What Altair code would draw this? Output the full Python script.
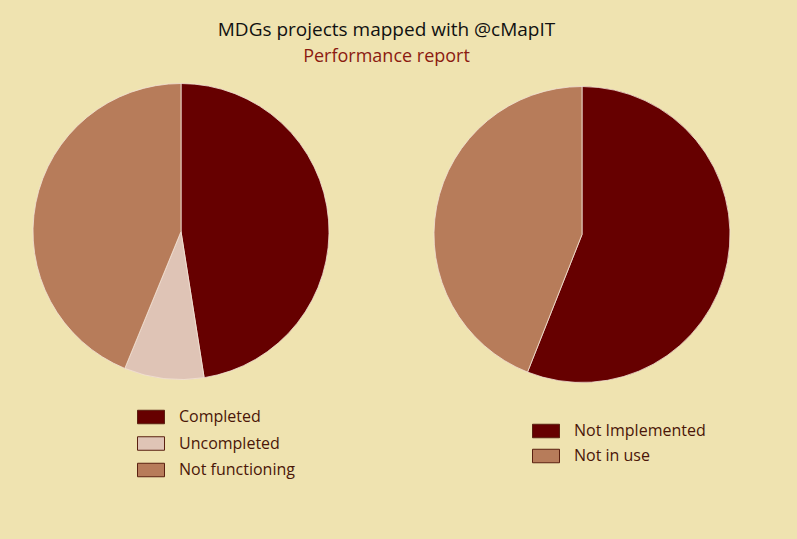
import altair as alt
import pandas as pd

# Left pie
left_cats = ["Completed", "Uncompleted", "Not functioning"]
left_vals = [47.5, 8.7, 43.8]
left_colors = ["#660000", "#dfc4b6", "#b77c5a"]

# Right pie
right_cats = ["Not Implemented", "Not in use"]
right_vals = [56.0, 44.0]
right_colors = ["#660000", "#b77c5a"]

BG = "#efe3b0"
FONT = "Open Sans"
LABEL_COLOR = "#4a1608"

left_df = pd.DataFrame({"cat": left_cats, "val": left_vals, "idx": range(len(left_cats))})
right_df = pd.DataFrame({"cat": right_cats, "val": right_vals, "idx": range(len(right_cats))})

rect_path = "M-1,-0.5H1V0.5H-1Z"

def legend(x, y, rp):
    return alt.Legend(
        title=None, orient="none", legendX=x, legendY=y,
        symbolType=rect_path, symbolSize=729,
        symbolStrokeColor="#5a2010", symbolStrokeWidth=1,
        labelFont=FONT, labelFontSize=16, labelColor=LABEL_COLOR,
        labelOffset=14, rowPadding=rp, padding=0, symbolOpacity=1,
    )

left = alt.Chart(left_df).mark_arc(
    radius=148, stroke="#f3e2d6", strokeWidth=0.8
).encode(
    theta=alt.Theta("val:Q", stack=True),
    order=alt.Order("idx:Q", sort="ascending"),
    color=alt.Color("cat:N", scale=alt.Scale(domain=left_cats, range=left_colors),
                    legend=legend(137, 333, 3.5)),
    x=alt.value(181),
    y=alt.value(161.5),
)

right = alt.Chart(right_df).mark_arc(
    radius=148, stroke="#f3e2d6", strokeWidth=0.8
).encode(
    theta=alt.Theta("val:Q", stack=True),
    order=alt.Order("idx:Q", sort="ascending"),
    color=alt.Color("cat:N", scale=alt.Scale(domain=right_cats, range=right_colors),
                    legend=legend(532, 347, 2)),
    x=alt.value(582),
    y=alt.value(164.5),
)

chart = alt.layer(left, right).resolve_scale(color="independent").properties(
    width=797, height=469,
    padding={"top": 70, "left": 0, "right": 0, "bottom": 0},
    autosize=alt.AutoSizeParams(type="none"),
    background=BG,
    title=alt.TitleParams(
        text="MDGs projects mapped with @cMapIT",
        subtitle="Performance report",
        font=FONT, fontSize=19, fontWeight="normal", color="#111111",
        subtitleFont=FONT, subtitleFontSize=18, subtitleColor="#8b1a10",
        subtitlePadding=8, anchor="middle", dx=-12, offset=4,
    ),
).configure_view(stroke=None)

chart.save("out.html", embed_options={"renderer": "svg", "actions": False})
